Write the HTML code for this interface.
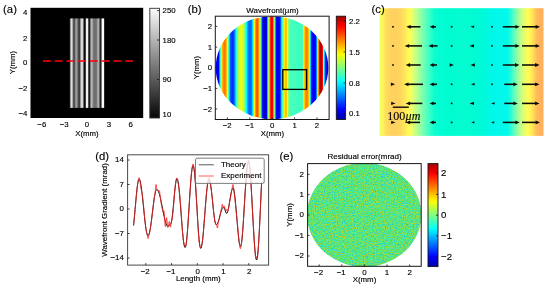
<!DOCTYPE html>
<html><head><meta charset="utf-8"><title>Figure</title>
<style>html,body{margin:0;padding:0;background:#fff;}body{width:550px;height:288px;overflow:hidden;}svg{display:block;}text{font-family:"Liberation Sans", sans-serif;fill:#000;stroke:#000;stroke-width:0.14px;}.t{font-size:7.8px;} .pl{font-size:11.3px;} .t2{font-size:7.9px;} .ax{fill:none;stroke:#151515;stroke-width:1;} .tk{stroke:#151515;stroke-width:0.8;fill:none;}</style></head><body>
<svg width="550" height="288" viewBox="0 0 550 288">
<defs>
<linearGradient id="gray" x1="0" y1="0" x2="0" y2="1"><stop offset="0" stop-color="#fbfbfb"/><stop offset="1" stop-color="#050505"/></linearGradient>
<linearGradient id="jetv" x1="0" y1="0" x2="0" y2="1"><stop offset="0.0000" stop-color="#a30000"/><stop offset="0.0312" stop-color="#c10000"/><stop offset="0.0625" stop-color="#de0000"/><stop offset="0.0938" stop-color="#fc0000"/><stop offset="0.1250" stop-color="#ff1b00"/><stop offset="0.1562" stop-color="#ff3800"/><stop offset="0.1875" stop-color="#ff5600"/><stop offset="0.2188" stop-color="#ff7400"/><stop offset="0.2500" stop-color="#ff9100"/><stop offset="0.2812" stop-color="#ffaf00"/><stop offset="0.3125" stop-color="#ffcd00"/><stop offset="0.3438" stop-color="#ffea00"/><stop offset="0.3750" stop-color="#f6ff09"/><stop offset="0.4062" stop-color="#d8ff27"/><stop offset="0.4375" stop-color="#bbff44"/><stop offset="0.4688" stop-color="#9dff62"/><stop offset="0.5000" stop-color="#7fff80"/><stop offset="0.5312" stop-color="#62ff9d"/><stop offset="0.5625" stop-color="#44ffbb"/><stop offset="0.5938" stop-color="#27ffd8"/><stop offset="0.6250" stop-color="#09fff6"/><stop offset="0.6562" stop-color="#00eaff"/><stop offset="0.6875" stop-color="#00cdff"/><stop offset="0.7188" stop-color="#00afff"/><stop offset="0.7500" stop-color="#0091ff"/><stop offset="0.7812" stop-color="#0074ff"/><stop offset="0.8125" stop-color="#0056ff"/><stop offset="0.8438" stop-color="#0038ff"/><stop offset="0.8750" stop-color="#001bff"/><stop offset="0.9062" stop-color="#0000fc"/><stop offset="0.9375" stop-color="#0000de"/><stop offset="0.9688" stop-color="#0000c1"/><stop offset="1.0000" stop-color="#0000a3"/></linearGradient>
<linearGradient id="strp" gradientUnits="userSpaceOnUse" x1="69.3" y1="0" x2="104.7" y2="0"><stop offset="0.0000" stop-color="#000000"/><stop offset="0.0311" stop-color="#8c8c8c"/><stop offset="0.0565" stop-color="#dedede"/><stop offset="0.0763" stop-color="#dedede"/><stop offset="0.1017" stop-color="#828282"/><stop offset="0.1243" stop-color="#464646"/><stop offset="0.1412" stop-color="#464646"/><stop offset="0.1667" stop-color="#7d7d7d"/><stop offset="0.1921" stop-color="#9e9e9e"/><stop offset="0.2119" stop-color="#9e9e9e"/><stop offset="0.2401" stop-color="#646464"/><stop offset="0.2712" stop-color="#3e3e3e"/><stop offset="0.2910" stop-color="#3e3e3e"/><stop offset="0.3164" stop-color="#969696"/><stop offset="0.3475" stop-color="#dedede"/><stop offset="0.3701" stop-color="#dedede"/><stop offset="0.3983" stop-color="#787878"/><stop offset="0.4237" stop-color="#0c0c0c"/><stop offset="0.4520" stop-color="#0c0c0c"/><stop offset="0.4746" stop-color="#d2d2d2"/><stop offset="0.4887" stop-color="#fafafa"/><stop offset="0.5113" stop-color="#fafafa"/><stop offset="0.5254" stop-color="#d2d2d2"/><stop offset="0.5480" stop-color="#232323"/><stop offset="0.5734" stop-color="#161616"/><stop offset="0.5989" stop-color="#7d7d7d"/><stop offset="0.6186" stop-color="#b6b6b6"/><stop offset="0.6441" stop-color="#b6b6b6"/><stop offset="0.6667" stop-color="#878787"/><stop offset="0.6921" stop-color="#707070"/><stop offset="0.7627" stop-color="#707070"/><stop offset="0.7910" stop-color="#969696"/><stop offset="0.8051" stop-color="#acacac"/><stop offset="0.8305" stop-color="#acacac"/><stop offset="0.8475" stop-color="#787878"/><stop offset="0.8757" stop-color="#202020"/><stop offset="0.8983" stop-color="#1c1c1c"/><stop offset="0.9181" stop-color="#c8c8c8"/><stop offset="0.9322" stop-color="#fcfcfc"/><stop offset="0.9661" stop-color="#fcfcfc"/><stop offset="0.9802" stop-color="#cdcdcd"/><stop offset="1.0000" stop-color="#000000"/></linearGradient>
<linearGradient id="wf" gradientUnits="userSpaceOnUse" x1="214" y1="0" x2="330" y2="0"><stop offset="0.0000" stop-color="#0000d1"/><stop offset="0.0043" stop-color="#0000d6"/><stop offset="0.0086" stop-color="#0000db"/><stop offset="0.0129" stop-color="#0000e0"/><stop offset="0.0172" stop-color="#0000e6"/><stop offset="0.0216" stop-color="#0000ea"/><stop offset="0.0259" stop-color="#0000ee"/><stop offset="0.0302" stop-color="#0000f2"/><stop offset="0.0345" stop-color="#0000f6"/><stop offset="0.0388" stop-color="#0000fa"/><stop offset="0.0431" stop-color="#0049ff"/><stop offset="0.0474" stop-color="#0097ff"/><stop offset="0.0517" stop-color="#00e5ff"/><stop offset="0.0560" stop-color="#4dffb2"/><stop offset="0.0603" stop-color="#b3ff4c"/><stop offset="0.0647" stop-color="#e6ff19"/><stop offset="0.0690" stop-color="#ffe500"/><stop offset="0.0733" stop-color="#ffb200"/><stop offset="0.0776" stop-color="#ff9700"/><stop offset="0.0819" stop-color="#ff8c00"/><stop offset="0.0862" stop-color="#ff8100"/><stop offset="0.0905" stop-color="#ff7600"/><stop offset="0.0948" stop-color="#ff6b00"/><stop offset="0.0991" stop-color="#ff8900"/><stop offset="0.1034" stop-color="#ffa700"/><stop offset="0.1078" stop-color="#ffc600"/><stop offset="0.1121" stop-color="#ffe400"/><stop offset="0.1164" stop-color="#e2ff1d"/><stop offset="0.1207" stop-color="#98ff67"/><stop offset="0.1250" stop-color="#4fffb0"/><stop offset="0.1293" stop-color="#05fffa"/><stop offset="0.1336" stop-color="#00cbff"/><stop offset="0.1379" stop-color="#0091ff"/><stop offset="0.1422" stop-color="#0058ff"/><stop offset="0.1466" stop-color="#0046ff"/><stop offset="0.1509" stop-color="#003eff"/><stop offset="0.1552" stop-color="#0036ff"/><stop offset="0.1595" stop-color="#002eff"/><stop offset="0.1638" stop-color="#0038ff"/><stop offset="0.1681" stop-color="#0042ff"/><stop offset="0.1724" stop-color="#004dff"/><stop offset="0.1767" stop-color="#007aff"/><stop offset="0.1810" stop-color="#00a7ff"/><stop offset="0.1853" stop-color="#00d4ff"/><stop offset="0.1897" stop-color="#02fffd"/><stop offset="0.1940" stop-color="#2fffd0"/><stop offset="0.1983" stop-color="#5bffa4"/><stop offset="0.2026" stop-color="#85ff7a"/><stop offset="0.2069" stop-color="#9eff61"/><stop offset="0.2112" stop-color="#b8ff47"/><stop offset="0.2155" stop-color="#d1ff2e"/><stop offset="0.2198" stop-color="#d9ff26"/><stop offset="0.2241" stop-color="#e0ff1f"/><stop offset="0.2284" stop-color="#e8ff17"/><stop offset="0.2328" stop-color="#f0ff0f"/><stop offset="0.2371" stop-color="#e8ff17"/><stop offset="0.2414" stop-color="#e0ff1f"/><stop offset="0.2457" stop-color="#d9ff26"/><stop offset="0.2500" stop-color="#d1ff2e"/><stop offset="0.2543" stop-color="#b9ff46"/><stop offset="0.2586" stop-color="#a1ff5e"/><stop offset="0.2629" stop-color="#89ff76"/><stop offset="0.2672" stop-color="#6aff95"/><stop offset="0.2716" stop-color="#46ffb9"/><stop offset="0.2759" stop-color="#22ffdd"/><stop offset="0.2802" stop-color="#00fcff"/><stop offset="0.2845" stop-color="#00d2ff"/><stop offset="0.2888" stop-color="#00a9ff"/><stop offset="0.2931" stop-color="#0080ff"/><stop offset="0.2974" stop-color="#0078ff"/><stop offset="0.3017" stop-color="#0070ff"/><stop offset="0.3060" stop-color="#0069ff"/><stop offset="0.3103" stop-color="#0061ff"/><stop offset="0.3147" stop-color="#006bff"/><stop offset="0.3190" stop-color="#0075ff"/><stop offset="0.3233" stop-color="#0080ff"/><stop offset="0.3276" stop-color="#00acff"/><stop offset="0.3319" stop-color="#00d8ff"/><stop offset="0.3362" stop-color="#05fffa"/><stop offset="0.3405" stop-color="#63ff9c"/><stop offset="0.3448" stop-color="#c1ff3e"/><stop offset="0.3491" stop-color="#fff200"/><stop offset="0.3534" stop-color="#ffc500"/><stop offset="0.3578" stop-color="#ff9800"/><stop offset="0.3621" stop-color="#ff6b00"/><stop offset="0.3664" stop-color="#ff5c00"/><stop offset="0.3707" stop-color="#ff4c00"/><stop offset="0.3750" stop-color="#ff5c00"/><stop offset="0.3793" stop-color="#ff6b00"/><stop offset="0.3836" stop-color="#ff8f00"/><stop offset="0.3879" stop-color="#ffb300"/><stop offset="0.3922" stop-color="#ffd600"/><stop offset="0.3966" stop-color="#fffa00"/><stop offset="0.4009" stop-color="#85ff7a"/><stop offset="0.4052" stop-color="#05fffa"/><stop offset="0.4095" stop-color="#00b6ff"/><stop offset="0.4138" stop-color="#0068ff"/><stop offset="0.4181" stop-color="#001aff"/><stop offset="0.4224" stop-color="#0000f1"/><stop offset="0.4267" stop-color="#0000e1"/><stop offset="0.4310" stop-color="#0000d2"/><stop offset="0.4353" stop-color="#0000c3"/><stop offset="0.4397" stop-color="#0000c6"/><stop offset="0.4440" stop-color="#0000d5"/><stop offset="0.4483" stop-color="#0000e4"/><stop offset="0.4526" stop-color="#0000f4"/><stop offset="0.4569" stop-color="#0043ff"/><stop offset="0.4612" stop-color="#00bcff"/><stop offset="0.4655" stop-color="#30ffcf"/><stop offset="0.4698" stop-color="#9aff65"/><stop offset="0.4741" stop-color="#fffa00"/><stop offset="0.4784" stop-color="#ffb400"/><stop offset="0.4828" stop-color="#ff6e00"/><stop offset="0.4871" stop-color="#ff2800"/><stop offset="0.4914" stop-color="#ff0900"/><stop offset="0.4957" stop-color="#f20000"/><stop offset="0.5000" stop-color="#ee0000"/><stop offset="0.5043" stop-color="#ff0400"/><stop offset="0.5086" stop-color="#ff1a00"/><stop offset="0.5129" stop-color="#ff8a00"/><stop offset="0.5172" stop-color="#fffa00"/><stop offset="0.5216" stop-color="#85ff7a"/><stop offset="0.5259" stop-color="#05fffa"/><stop offset="0.5302" stop-color="#009eff"/><stop offset="0.5345" stop-color="#0038ff"/><stop offset="0.5388" stop-color="#0008ff"/><stop offset="0.5431" stop-color="#0000fc"/><stop offset="0.5474" stop-color="#0000f1"/><stop offset="0.5517" stop-color="#0000e6"/><stop offset="0.5560" stop-color="#0000f0"/><stop offset="0.5603" stop-color="#0000fa"/><stop offset="0.5647" stop-color="#0005ff"/><stop offset="0.5690" stop-color="#000fff"/><stop offset="0.5733" stop-color="#0053ff"/><stop offset="0.5776" stop-color="#0097ff"/><stop offset="0.5819" stop-color="#00dbff"/><stop offset="0.5862" stop-color="#19ffe6"/><stop offset="0.5905" stop-color="#4cffb3"/><stop offset="0.5948" stop-color="#80ff80"/><stop offset="0.5991" stop-color="#b0ff4f"/><stop offset="0.6034" stop-color="#e0ff1f"/><stop offset="0.6078" stop-color="#ffee00"/><stop offset="0.6121" stop-color="#ffd200"/><stop offset="0.6164" stop-color="#ffc200"/><stop offset="0.6207" stop-color="#ffb300"/><stop offset="0.6250" stop-color="#ffc700"/><stop offset="0.6293" stop-color="#ffdb00"/><stop offset="0.6336" stop-color="#f0ff0f"/><stop offset="0.6379" stop-color="#bdff42"/><stop offset="0.6422" stop-color="#8aff75"/><stop offset="0.6466" stop-color="#72ff8d"/><stop offset="0.6509" stop-color="#62ff9d"/><stop offset="0.6552" stop-color="#51ffae"/><stop offset="0.6595" stop-color="#47ffb8"/><stop offset="0.6638" stop-color="#47ffb8"/><stop offset="0.6681" stop-color="#46ffb9"/><stop offset="0.6724" stop-color="#46ffb9"/><stop offset="0.6767" stop-color="#45ffba"/><stop offset="0.6810" stop-color="#45ffba"/><stop offset="0.6853" stop-color="#45ffba"/><stop offset="0.6897" stop-color="#44ffbb"/><stop offset="0.6940" stop-color="#44ffbb"/><stop offset="0.6983" stop-color="#43ffbc"/><stop offset="0.7026" stop-color="#43ffbc"/><stop offset="0.7069" stop-color="#42ffbd"/><stop offset="0.7112" stop-color="#40ffbf"/><stop offset="0.7155" stop-color="#3dffc2"/><stop offset="0.7198" stop-color="#3bffc4"/><stop offset="0.7241" stop-color="#38ffc7"/><stop offset="0.7284" stop-color="#3affc5"/><stop offset="0.7328" stop-color="#3bffc4"/><stop offset="0.7371" stop-color="#3dffc2"/><stop offset="0.7414" stop-color="#3fffc0"/><stop offset="0.7457" stop-color="#40ffbf"/><stop offset="0.7500" stop-color="#42ffbd"/><stop offset="0.7543" stop-color="#43ffbc"/><stop offset="0.7586" stop-color="#45ffba"/><stop offset="0.7629" stop-color="#47ffb8"/><stop offset="0.7672" stop-color="#78ff87"/><stop offset="0.7716" stop-color="#c9ff36"/><stop offset="0.7759" stop-color="#fff400"/><stop offset="0.7802" stop-color="#ffcc00"/><stop offset="0.7845" stop-color="#ffa400"/><stop offset="0.7888" stop-color="#ff9000"/><stop offset="0.7931" stop-color="#ff8800"/><stop offset="0.7974" stop-color="#ff8100"/><stop offset="0.8017" stop-color="#ff8500"/><stop offset="0.8060" stop-color="#ff8d00"/><stop offset="0.8103" stop-color="#ff9400"/><stop offset="0.8147" stop-color="#ffc300"/><stop offset="0.8190" stop-color="#fff100"/><stop offset="0.8233" stop-color="#b7ff48"/><stop offset="0.8276" stop-color="#48ffb7"/><stop offset="0.8319" stop-color="#00d9ff"/><stop offset="0.8362" stop-color="#006fff"/><stop offset="0.8405" stop-color="#0017ff"/><stop offset="0.8448" stop-color="#000cff"/><stop offset="0.8491" stop-color="#0001ff"/><stop offset="0.8534" stop-color="#0000f5"/><stop offset="0.8578" stop-color="#0000ea"/><stop offset="0.8621" stop-color="#0000ec"/><stop offset="0.8664" stop-color="#0000f7"/><stop offset="0.8707" stop-color="#0003ff"/><stop offset="0.8750" stop-color="#000eff"/><stop offset="0.8793" stop-color="#001aff"/><stop offset="0.8836" stop-color="#008cff"/><stop offset="0.8879" stop-color="#00ffff"/><stop offset="0.8922" stop-color="#7cff83"/><stop offset="0.8966" stop-color="#feff01"/><stop offset="0.9009" stop-color="#ff9200"/><stop offset="0.9052" stop-color="#ff4200"/><stop offset="0.9095" stop-color="#f10000"/><stop offset="0.9138" stop-color="#c50000"/><stop offset="0.9181" stop-color="#b20000"/><stop offset="0.9224" stop-color="#9e0000"/><stop offset="0.9267" stop-color="#b20000"/><stop offset="0.9310" stop-color="#c50000"/><stop offset="0.9353" stop-color="#ff0800"/><stop offset="0.9397" stop-color="#ff8e00"/><stop offset="0.9440" stop-color="#e5ff1a"/><stop offset="0.9483" stop-color="#4dffb2"/><stop offset="0.9526" stop-color="#00ccff"/><stop offset="0.9569" stop-color="#004cff"/><stop offset="0.9612" stop-color="#0012ff"/><stop offset="0.9655" stop-color="#0005ff"/><stop offset="0.9698" stop-color="#0000f7"/><stop offset="0.9741" stop-color="#0000eb"/><stop offset="0.9784" stop-color="#0000de"/><stop offset="0.9828" stop-color="#0000d1"/><stop offset="0.9871" stop-color="#0000d1"/><stop offset="0.9914" stop-color="#0000d1"/><stop offset="0.9957" stop-color="#0000d1"/><stop offset="1.0000" stop-color="#0000d1"/></linearGradient>
<linearGradient id="cg" gradientUnits="userSpaceOnUse" x1="379.6" y1="0" x2="543.5" y2="0"><stop offset="0.0000" stop-color="#ebff69"/><stop offset="0.0116" stop-color="#fafa5c"/><stop offset="0.0238" stop-color="#fff05a"/><stop offset="0.0390" stop-color="#ffde5c"/><stop offset="0.0635" stop-color="#ffd35f"/><stop offset="0.0940" stop-color="#ffd060"/><stop offset="0.1245" stop-color="#ffd55e"/><stop offset="0.1507" stop-color="#ffe45a"/><stop offset="0.1721" stop-color="#fff856"/><stop offset="0.1873" stop-color="#f8fd5c"/><stop offset="0.2062" stop-color="#dcff76"/><stop offset="0.2361" stop-color="#aaff96"/><stop offset="0.2648" stop-color="#78ffaf"/><stop offset="0.3014" stop-color="#3cffc8"/><stop offset="0.3380" stop-color="#0afdd0"/><stop offset="0.3990" stop-color="#00fcd2"/><stop offset="0.5210" stop-color="#05fcd0"/><stop offset="0.6004" stop-color="#00fad4"/><stop offset="0.6492" stop-color="#00f9dc"/><stop offset="0.6858" stop-color="#00f8ea"/><stop offset="0.7773" stop-color="#02f8ea"/><stop offset="0.7987" stop-color="#23fada"/><stop offset="0.8170" stop-color="#5afcc3"/><stop offset="0.8432" stop-color="#96fda0"/><stop offset="0.8719" stop-color="#d7ff78"/><stop offset="0.8932" stop-color="#f2fd62"/><stop offset="0.9103" stop-color="#fffa55"/><stop offset="0.9237" stop-color="#ffee56"/><stop offset="0.9359" stop-color="#ffde58"/><stop offset="0.9573" stop-color="#ffbe58"/><stop offset="0.9786" stop-color="#ffb25a"/><stop offset="1.0000" stop-color="#ffaf5c"/></linearGradient>
<filter id="nz" x="0" y="0" width="1" height="1" color-interpolation-filters="sRGB"><feTurbulence type="fractalNoise" baseFrequency="0.9" numOctaves="2" seed="11" result="n"/><feColorMatrix in="n" type="matrix" values="0 1 0 0 0  0 1 0 0 0  0 1 0 0 0  0 0 0 0 1"/><feComponentTransfer><feFuncR type="table" tableValues="0.10 0.15 0.33 0.72 0.90"/><feFuncG type="table" tableValues="0.55 0.80 0.92 0.85 0.65"/><feFuncB type="table" tableValues="0.90 0.80 0.48 0.20 0.10"/></feComponentTransfer><feComposite in2="SourceGraphic" operator="in"/></filter>
<clipPath id="cb"><ellipse cx="272" cy="67.7" rx="56.3" ry="51.5"/></clipPath>
</defs>
<rect x="0" y="0" width="550" height="288" fill="#ffffff"/>
<g id="pa">
<text x="3.10" y="12.70" class="pl" text-anchor="start">(a)</text>
<rect x="30.5" y="7.8" width="112.7" height="110.2" fill="#000"/>
<rect x="69.3" y="18.4" width="35.4" height="89.5" fill="url(#strp)"/>
<line x1="43" y1="61" x2="133" y2="61" stroke="#ff0008" stroke-width="1.35" stroke-dasharray="7.9 3.83"/>
<text x="27.40" y="14.70" class="t" text-anchor="end">4</text>
<text x="27.40" y="40.70" class="t" text-anchor="end">2</text>
<text x="27.40" y="65.30" class="t" text-anchor="end">0</text>
<text x="27.40" y="90.70" class="t" text-anchor="end">−2</text>
<text x="27.40" y="116.30" class="t" text-anchor="end">−4</text>
<text x="41.80" y="127.20" class="t" text-anchor="middle">−6</text>
<text x="64.10" y="127.20" class="t" text-anchor="middle">−3</text>
<text x="87.00" y="127.20" class="t" text-anchor="middle">0</text>
<text x="108.80" y="127.20" class="t" text-anchor="middle">3</text>
<text x="130.60" y="127.20" class="t" text-anchor="middle">6</text>
<text x="87.00" y="135.60" class="t" text-anchor="middle">X(mm)</text>
<text class="t" text-anchor="middle" transform="translate(14.6,62.5) rotate(-90)">Y(mm)</text>
<rect x="149.8" y="8.3" width="9.7" height="109.7" fill="url(#gray)" stroke="#333" stroke-width="0.9"/>
<text x="162.60" y="13.30" class="t" text-anchor="start">250</text>
<line x1="157" y1="10.6" x2="159" y2="10.6" class="tk"/>
<text x="162.60" y="42.70" class="t" text-anchor="start">180</text>
<line x1="157" y1="40" x2="159" y2="40" class="tk"/>
<text x="162.60" y="82.20" class="t" text-anchor="start">90</text>
<line x1="157" y1="79.5" x2="159" y2="79.5" class="tk"/>
<text x="162.60" y="116.50" class="t" text-anchor="start">10</text>
<line x1="157" y1="113.8" x2="159" y2="113.8" class="tk"/>
</g>
<g id="pb">
<text x="187.80" y="12.60" class="pl" text-anchor="start">(b)</text>
<text x="272.50" y="12.60" class="t" text-anchor="middle" style="font-size:7.95px">Wavefront(µm)</text>
<rect x="214" y="15" width="117" height="106" fill="url(#wf)" clip-path="url(#cb)"/>
<rect x="215.3" y="16.2" width="113.8" height="103.3" class="ax"/>
<rect x="282.8" y="69.7" width="23.8" height="19.7" fill="none" stroke="#000" stroke-width="1.3"/>
<text x="212.10" y="29.10" class="t" text-anchor="end">2</text>
<line x1="215.3" y1="26.4" x2="217.3" y2="26.4" class="tk"/>
<text x="212.10" y="49.80" class="t" text-anchor="end">1</text>
<line x1="215.3" y1="47.1" x2="217.3" y2="47.1" class="tk"/>
<text x="212.10" y="70.40" class="t" text-anchor="end">0</text>
<line x1="215.3" y1="67.7" x2="217.3" y2="67.7" class="tk"/>
<text x="212.10" y="91.10" class="t" text-anchor="end">−1</text>
<line x1="215.3" y1="88.4" x2="217.3" y2="88.4" class="tk"/>
<text x="212.10" y="111.70" class="t" text-anchor="end">−2</text>
<line x1="215.3" y1="109" x2="217.3" y2="109" class="tk"/>
<text x="227.20" y="128.30" class="t" text-anchor="middle">−2</text>
<line x1="227.4" y1="119.2" x2="227.4" y2="117.4" class="tk"/>
<text x="249.60" y="128.30" class="t" text-anchor="middle">−1</text>
<line x1="249.8" y1="119.2" x2="249.8" y2="117.4" class="tk"/>
<text x="272.20" y="128.30" class="t" text-anchor="middle">0</text>
<line x1="272.2" y1="119.2" x2="272.2" y2="117.4" class="tk"/>
<text x="294.60" y="128.30" class="t" text-anchor="middle">1</text>
<line x1="294.6" y1="119.2" x2="294.6" y2="117.4" class="tk"/>
<text x="317.00" y="128.30" class="t" text-anchor="middle">2</text>
<line x1="317" y1="119.2" x2="317" y2="117.4" class="tk"/>
<text x="272.50" y="135.90" class="t" text-anchor="middle">X(mm)</text>
<text class="t" text-anchor="middle" transform="translate(198.9,67.5) rotate(-90)">Y(mm)</text>
<rect x="336.3" y="16.2" width="9.3" height="103.3" fill="url(#jetv)" stroke="#151515" stroke-width="0.9"/>
<text x="349.10" y="23.70" class="t" text-anchor="start">2.2</text>
<line x1="343.6" y1="21" x2="345.6" y2="21" class="tk"/>
<text x="349.10" y="54.70" class="t" text-anchor="start">1.5</text>
<line x1="343.6" y1="52" x2="345.6" y2="52" class="tk"/>
<text x="349.10" y="85.70" class="t" text-anchor="start">0.8</text>
<line x1="343.6" y1="83" x2="345.6" y2="83" class="tk"/>
<text x="349.10" y="116.30" class="t" text-anchor="start">0.1</text>
<line x1="343.6" y1="113.6" x2="345.6" y2="113.6" class="tk"/>
</g>
<g id="pc">
<rect x="379.6" y="8.2" width="163.9" height="127.7" fill="url(#cg)"/>
<text x="371.60" y="12.70" class="pl" text-anchor="start">(c)</text>
<rect x="392.1" y="26.0" width="1.7" height="1.6" fill="#111"/>
<line x1="420.4" y1="26.8" x2="408.9" y2="26.8" stroke="#0a0a0a" stroke-width="1.55"/>
<path d="M406.3 26.8L410.7 24.9L410.7 28.7Z" fill="#0a0a0a"/>
<line x1="436.0" y1="26.8" x2="432.1" y2="26.8" stroke="#0a0a0a" stroke-width="1.55"/>
<path d="M429.7 26.8L433.7 24.9L433.7 28.7Z" fill="#0a0a0a"/>
<rect x="450.8" y="26.0" width="1.7" height="1.6" fill="#111"/>
<path d="M470.5 26.8L474.1 25.6L474.1 28.0Z" fill="#0a0a0a"/>
<rect x="491.1" y="26.0" width="1.7" height="1.6" fill="#111"/>
<line x1="502.8" y1="26.8" x2="517.2" y2="26.8" stroke="#0a0a0a" stroke-width="1.55"/>
<path d="M519.8 26.8L515.4 24.9L515.4 28.7Z" fill="#0a0a0a"/>
<line x1="522.0" y1="26.8" x2="537.4" y2="26.8" stroke="#0a0a0a" stroke-width="1.55"/>
<path d="M540.0 26.8L535.6 24.9L535.6 28.7Z" fill="#0a0a0a"/>
<rect x="392.1" y="45.1" width="1.7" height="1.6" fill="#111"/>
<line x1="422.0" y1="45.9" x2="407.3" y2="45.9" stroke="#0a0a0a" stroke-width="1.55"/>
<path d="M404.7 45.9L409.1 44.0L409.1 47.8Z" fill="#0a0a0a"/>
<line x1="437.5" y1="45.9" x2="431.1" y2="45.9" stroke="#0a0a0a" stroke-width="1.55"/>
<path d="M428.5 45.9L432.9 44.0L432.9 47.8Z" fill="#0a0a0a"/>
<rect x="450.8" y="45.1" width="1.7" height="1.6" fill="#111"/>
<path d="M469.7 45.9L474.0 44.2L474.0 47.6Z" fill="#0a0a0a"/>
<rect x="491.1" y="45.1" width="1.7" height="1.6" fill="#111"/>
<line x1="502.8" y1="45.9" x2="517.2" y2="45.9" stroke="#0a0a0a" stroke-width="1.55"/>
<path d="M519.8 45.9L515.4 44.0L515.4 47.8Z" fill="#0a0a0a"/>
<line x1="522.0" y1="45.9" x2="537.4" y2="45.9" stroke="#0a0a0a" stroke-width="1.55"/>
<path d="M540.0 45.9L535.6 44.0L535.6 47.8Z" fill="#0a0a0a"/>
<rect x="392.1" y="64.2" width="1.7" height="1.6" fill="#111"/>
<line x1="420.7" y1="65.0" x2="408.3" y2="65.0" stroke="#0a0a0a" stroke-width="1.55"/>
<path d="M405.7 65.0L410.1 63.1L410.1 66.9Z" fill="#0a0a0a"/>
<line x1="437.0" y1="65.0" x2="432.1" y2="65.0" stroke="#0a0a0a" stroke-width="1.55"/>
<path d="M429.7 65.0L433.7 63.1L433.7 66.9Z" fill="#0a0a0a"/>
<path d="M453.8 65.0L449.7 63.3L449.7 66.7Z" fill="#0a0a0a"/>
<path d="M470.5 65.0L474.8 63.3L474.8 66.7Z" fill="#0a0a0a"/>
<rect x="491.1" y="64.2" width="1.7" height="1.6" fill="#111"/>
<line x1="502.8" y1="65.0" x2="516.8" y2="65.0" stroke="#0a0a0a" stroke-width="1.55"/>
<path d="M519.4 65.0L515.0 63.1L515.0 66.9Z" fill="#0a0a0a"/>
<line x1="522.0" y1="65.0" x2="536.9" y2="65.0" stroke="#0a0a0a" stroke-width="1.55"/>
<path d="M539.5 65.0L535.1 63.1L535.1 66.9Z" fill="#0a0a0a"/>
<path d="M395.0 84.3L390.9 82.6L390.9 86.0Z" fill="#0a0a0a"/>
<line x1="423.0" y1="84.3" x2="406.7" y2="84.3" stroke="#0a0a0a" stroke-width="1.55"/>
<path d="M404.1 84.3L408.5 82.4L408.5 86.2Z" fill="#0a0a0a"/>
<line x1="437.0" y1="84.3" x2="432.1" y2="84.3" stroke="#0a0a0a" stroke-width="1.55"/>
<path d="M429.7 84.3L433.7 82.4L433.7 86.2Z" fill="#0a0a0a"/>
<rect x="450.8" y="83.5" width="1.7" height="1.6" fill="#111"/>
<path d="M471.0 84.3L474.6 83.1L474.6 85.5Z" fill="#0a0a0a"/>
<rect x="491.1" y="83.5" width="1.7" height="1.6" fill="#111"/>
<line x1="504.3" y1="84.3" x2="515.2" y2="84.3" stroke="#0a0a0a" stroke-width="1.55"/>
<path d="M517.8 84.3L513.4 82.4L513.4 86.2Z" fill="#0a0a0a"/>
<line x1="522.0" y1="84.3" x2="536.9" y2="84.3" stroke="#0a0a0a" stroke-width="1.55"/>
<path d="M539.5 84.3L535.1 82.4L535.1 86.2Z" fill="#0a0a0a"/>
<path d="M395.5 103.4L391.2 101.7L391.2 105.1Z" fill="#0a0a0a"/>
<line x1="422.3" y1="103.4" x2="408.3" y2="103.4" stroke="#0a0a0a" stroke-width="1.55"/>
<path d="M405.7 103.4L410.1 101.5L410.1 105.3Z" fill="#0a0a0a"/>
<line x1="436.0" y1="103.4" x2="432.1" y2="103.4" stroke="#0a0a0a" stroke-width="1.55"/>
<path d="M429.7 103.4L433.7 101.5L433.7 105.3Z" fill="#0a0a0a"/>
<rect x="450.8" y="102.6" width="1.7" height="1.6" fill="#111"/>
<path d="M469.7 103.4L474.0 101.7L474.0 105.1Z" fill="#0a0a0a"/>
<path d="M491.0 103.4L494.6 102.2L494.6 104.6Z" fill="#0a0a0a"/>
<line x1="504.3" y1="103.4" x2="515.2" y2="103.4" stroke="#0a0a0a" stroke-width="1.55"/>
<path d="M517.8 103.4L513.4 101.5L513.4 105.3Z" fill="#0a0a0a"/>
<line x1="522.0" y1="103.4" x2="536.9" y2="103.4" stroke="#0a0a0a" stroke-width="1.55"/>
<path d="M539.5 103.4L535.1 101.5L535.1 105.3Z" fill="#0a0a0a"/>
<path d="M395.5 122.4L391.2 120.7L391.2 124.1Z" fill="#0a0a0a"/>
<line x1="420.0" y1="122.4" x2="408.3" y2="122.4" stroke="#0a0a0a" stroke-width="1.55"/>
<path d="M405.7 122.4L410.1 120.5L410.1 124.3Z" fill="#0a0a0a"/>
<line x1="436.0" y1="122.4" x2="432.1" y2="122.4" stroke="#0a0a0a" stroke-width="1.55"/>
<path d="M429.7 122.4L433.7 120.5L433.7 124.3Z" fill="#0a0a0a"/>
<rect x="450.8" y="121.6" width="1.7" height="1.6" fill="#111"/>
<path d="M471.3 122.4L474.3 121.2L474.3 123.6Z" fill="#0a0a0a"/>
<path d="M491.0 122.4L494.2 121.2L494.2 123.6Z" fill="#0a0a0a"/>
<line x1="502.8" y1="122.4" x2="517.2" y2="122.4" stroke="#0a0a0a" stroke-width="1.55"/>
<path d="M519.8 122.4L515.4 120.5L515.4 124.3Z" fill="#0a0a0a"/>
<line x1="522.0" y1="122.4" x2="537.4" y2="122.4" stroke="#0a0a0a" stroke-width="1.55"/>
<path d="M540.0 122.4L535.6 120.5L535.6 124.3Z" fill="#0a0a0a"/>
<line x1="392.8" y1="107.2" x2="408.8" y2="107.2" stroke="#0a0a0a" stroke-width="1.4"/>
<text transform="translate(387.3,120) scale(0.955,1)" text-anchor="start" style="font-family:'Liberation Serif', serif;font-size:12.6px;fill:#000;stroke:#000;stroke-width:0.12px">100<tspan dx="0.3" font-style="italic">μm</tspan></text>
</g>
<g id="pd">
<text x="95.20" y="160.00" class="pl" text-anchor="start">(d)</text>
<path d="M133.6 225.5L134.1 220.5L134.6 215.0L135.1 209.3L135.6 203.5L136.1 197.9L136.6 192.7L137.1 188.1L137.6 184.3L138.1 181.5L138.6 179.8L139.1 179.2L139.6 179.6L140.1 180.9L140.6 183.1L141.1 186.0L141.6 189.5L142.1 193.6L142.6 198.2L143.1 203.0L143.6 208.0L144.1 213.0L144.6 217.8L145.1 222.2L145.6 226.2L146.1 229.7L146.6 232.4L147.1 234.4L147.6 235.5L148.1 235.8L148.6 235.3L149.1 234.0L149.6 232.1L150.1 229.6L150.6 226.5L151.1 223.0L151.6 219.2L152.1 215.1L152.6 211.0L153.1 206.9L153.6 203.0L154.1 199.4L154.6 196.3L155.1 193.6L155.6 191.6L156.1 190.2L156.6 189.6L157.1 189.6L157.6 190.0L158.1 190.7L158.6 191.8L159.1 193.2L159.6 194.8L160.1 196.8L160.6 198.9L161.1 201.3L161.6 203.7L162.1 206.2L162.6 208.8L163.1 211.4L163.6 213.9L164.1 216.3L164.6 218.5L165.1 220.5L165.6 222.3L166.1 223.8L166.6 225.0L167.1 225.9L167.6 226.4L168.1 226.6L168.6 226.4L169.1 225.7L169.6 224.9L170.1 224.2L170.6 224.0L171.1 223.3L171.6 221.3L172.1 218.1L172.6 213.9L173.1 208.9L173.6 203.5L174.1 198.0L174.6 192.6L175.1 187.8L175.6 183.8L176.1 180.8L176.6 179.0L177.1 178.6L177.6 179.5L178.1 181.7L178.6 185.0L179.1 189.4L179.6 194.7L180.1 200.6L180.6 207.1L181.1 213.7L181.6 220.3L182.1 226.7L182.6 232.5L183.1 237.6L183.6 241.8L184.1 244.9L184.6 246.9L185.1 247.5L185.6 246.7L186.1 244.4L186.6 240.6L187.1 235.5L187.6 229.3L188.1 222.2L188.6 214.5L189.1 206.6L189.6 198.6L190.1 190.9L190.6 183.8L191.1 177.6L191.6 172.5L192.1 168.7L192.6 166.4L193.1 165.6L193.6 166.5L194.1 169.1L194.6 173.3L195.1 179.0L195.6 185.8L196.1 193.6L196.6 201.9L197.1 210.4L197.6 218.8L198.1 226.7L198.6 233.8L199.1 239.7L199.6 244.2L200.1 247.1L200.6 248.4L201.1 248.0L201.6 246.4L202.1 243.6L202.6 239.8L203.1 235.0L203.6 229.5L204.1 223.4L204.6 217.0L205.1 210.4L205.6 204.0L206.1 197.9L206.6 192.4L207.1 187.6L207.6 183.8L208.1 181.0L208.6 179.4L209.1 179.0L209.6 179.8L210.1 181.6L210.6 184.4L211.1 188.0L211.6 192.2L212.1 196.9L212.6 201.9L213.1 206.9L213.6 211.6L214.1 215.8L214.6 219.4L215.1 222.2L215.6 224.0L216.1 224.8L216.6 224.7L217.1 224.2L217.6 223.3L218.1 222.1L218.6 220.6L219.1 218.9L219.6 217.0L220.1 215.1L220.6 213.3L221.1 211.6L221.6 210.0L222.1 208.7L222.6 207.8L223.1 207.2L223.6 207.0L224.1 207.4L224.6 208.6L225.1 210.2L225.6 211.8L226.1 213.0L226.6 213.4L227.1 213.0L227.6 211.9L228.1 210.1L228.6 207.8L229.1 205.0L229.6 201.9L230.1 198.8L230.6 195.8L231.1 193.1L231.6 190.9L232.1 189.2L232.6 188.2L233.1 188.0L233.6 188.9L234.1 191.1L234.6 194.3L235.1 198.6L235.6 203.7L236.1 209.4L236.6 215.4L237.1 221.5L237.6 227.4L238.1 232.9L238.6 237.7L239.1 241.6L239.6 244.4L240.1 246.1L240.6 246.5L241.1 245.3L241.6 242.5L242.1 238.2L242.6 232.5L243.1 225.7L243.6 218.1L244.1 209.9L244.6 201.5L245.1 193.1L245.6 185.2L246.1 178.1L246.6 171.9L247.1 167.1L247.6 163.6L248.1 161.8L248.6 161.6L249.1 163.3L249.6 166.6L250.1 171.6L250.6 178.0L251.1 185.6L251.6 194.1L252.1 203.2L252.6 212.6L253.1 222.0L253.6 230.9L254.1 239.1L254.6 246.2L255.1 252.1L255.6 256.4L256.1 259.1L256.6 260.0L257.1 258.9L257.6 255.7L258.1 250.5L258.6 243.5L259.1 235.0L259.6 225.3L260.1 214.8L260.6 203.9L261.1 193.1L261.6 182.7" fill="none" stroke="#111" stroke-width="1.0" stroke-linejoin="round"/>
<path d="M133.6 224.4L134.1 219.7L134.6 214.6L135.1 209.4L135.6 204.1L136.1 198.9L136.6 193.7L137.1 188.8L137.6 184.3L138.1 180.9L138.6 178.6L139.1 177.6L139.6 178.9L140.1 181.9L140.6 185.8L141.1 189.3L141.6 190.9L142.1 193.1L142.6 197.1L143.1 201.4L143.6 206.2L144.1 211.6L144.6 217.1L145.1 222.3L145.6 226.6L146.1 229.9L146.6 232.3L147.1 233.8L147.6 236.9L148.1 238.6L148.6 236.4L149.1 234.4L149.6 232.8L150.1 230.4L150.6 227.3L151.1 223.7L151.6 219.8L152.1 215.7L152.6 211.6L153.1 207.3L153.6 203.0L154.1 199.0L154.6 195.5L155.1 192.8L155.6 187.4L156.1 184.4L156.6 187.8L157.1 190.1L157.6 190.1L158.1 191.1L158.6 192.0L159.1 190.5L159.6 191.0L160.1 195.3L160.6 199.6L161.1 203.1L161.6 206.2L162.1 208.5L162.6 210.2L163.1 211.6L163.6 210.6L164.1 211.0L164.6 218.2L165.1 226.3L165.6 226.4L166.1 221.4L166.6 217.5L167.1 221.5L167.6 227.4L168.1 227.0L168.6 224.9L169.1 221.6L169.6 221.6L170.1 226.3L170.6 227.2L171.1 223.6L171.6 220.9L172.1 218.7L172.6 215.4L173.1 211.0L173.6 205.6L174.1 199.4L174.6 192.9L175.1 187.1L175.6 182.4L176.1 179.6L176.6 178.1L177.1 178.4L177.6 180.6L178.1 183.2L178.6 186.0L179.1 189.5L179.6 193.7L180.1 199.0L180.6 205.3L181.1 212.4L181.6 219.7L182.1 226.6L182.6 232.7L183.1 237.9L183.6 241.9L184.1 245.0L184.6 245.9L185.1 245.5L185.6 246.4L186.1 245.3L186.6 241.4L187.1 236.0L187.6 229.5L188.1 222.2L188.6 214.6L189.1 206.7L189.6 198.8L190.1 191.0L190.6 183.6L191.1 176.9L191.6 171.4L192.1 167.6L192.6 165.0L193.1 163.9L193.6 166.1L194.1 169.5L194.6 173.5L195.1 178.6L195.6 184.9L196.1 192.5L196.6 201.3L197.1 210.7L197.6 220.1L198.1 228.7L198.6 235.9L199.1 241.2L199.6 244.7L200.1 246.8L200.6 247.7L201.1 247.1L201.6 245.6L202.1 243.3L202.6 239.9L203.1 235.3L203.6 229.6L204.1 223.2L204.6 216.5L205.1 209.8L205.6 203.4L206.1 197.4L206.6 191.9L207.1 187.1L207.6 183.3L208.1 180.7L208.6 178.2L209.1 177.6L209.6 180.4L210.1 183.3L210.6 185.9L211.1 188.9L211.6 192.3L212.1 196.2L212.6 200.9L213.1 206.0L213.6 211.3L214.1 216.1L214.6 220.0L215.1 222.5L215.6 223.7L216.1 223.8L216.6 224.1L217.1 227.5L217.6 228.0L218.1 223.6L218.6 221.4L219.1 220.1L219.6 217.8L220.1 215.3L220.6 212.2L221.1 209.9L221.6 208.1L222.1 204.3L222.6 204.6L223.1 207.8L223.6 208.2L224.1 206.7L224.6 206.4L225.1 208.9L225.6 211.1L226.1 210.3L226.6 209.5L227.1 211.0L227.6 211.9L228.1 210.6L228.6 207.6L229.1 204.7L229.6 202.2L230.1 199.6L230.6 196.8L231.1 193.8L231.6 190.9L232.1 188.5L232.6 185.5L233.1 184.4L233.6 187.8L234.1 192.1L234.6 196.3L235.1 201.0L235.6 205.7L236.1 210.4L236.6 215.1L237.1 220.1L237.6 225.4L238.1 231.0L238.6 236.5L239.1 241.2L239.6 245.2L240.1 248.5L240.6 248.5L241.1 245.7L241.6 242.4L242.1 238.0L242.6 232.3L243.1 225.5L243.6 217.8L244.1 209.6L244.6 201.3L245.1 193.3L245.6 186.0L246.1 179.4L246.6 173.7L247.1 168.7L247.6 164.6L248.1 161.1L248.6 159.8L249.1 161.4L249.6 164.9L250.1 170.4L250.6 177.6L251.1 185.9L251.6 194.7L252.1 203.6L252.6 212.4L253.1 221.1L253.6 229.7L254.1 238.1L254.6 245.9L255.1 252.5L255.6 257.4L256.1 258.3L256.6 256.5L257.1 257.5L257.6 255.9L258.1 250.6L258.6 243.7L259.1 235.4L259.6 225.8L260.1 215.2L260.6 204.0L261.1 192.8L261.6 182.1" fill="none" stroke="#ff2020" stroke-width="0.8" stroke-linejoin="round"/>
<rect x="127.6" y="154.8" width="141" height="110.3" class="ax" style="stroke:#4a4a4a"/>
<text x="123.90" y="162.40" class="t t2" text-anchor="end">14</text>
<line x1="127.6" y1="160.00" x2="129.6" y2="160.00" class="tk"/>
<text x="123.90" y="186.90" class="t t2" text-anchor="end">7</text>
<line x1="127.6" y1="184.50" x2="129.6" y2="184.50" class="tk"/>
<text x="123.90" y="211.40" class="t t2" text-anchor="end">0</text>
<line x1="127.6" y1="209.00" x2="129.6" y2="209.00" class="tk"/>
<text x="123.90" y="235.90" class="t t2" text-anchor="end">−7</text>
<line x1="127.6" y1="233.50" x2="129.6" y2="233.50" class="tk"/>
<text x="123.90" y="260.40" class="t t2" text-anchor="end">−14</text>
<line x1="127.6" y1="258.00" x2="129.6" y2="258.00" class="tk"/>
<text x="145.20" y="273.50" class="t t2" text-anchor="middle">−2</text>
<line x1="145.80" y1="265.1" x2="145.80" y2="263.1" class="tk"/>
<text x="170.95" y="273.50" class="t t2" text-anchor="middle">−1</text>
<line x1="171.55" y1="265.1" x2="171.55" y2="263.1" class="tk"/>
<text x="197.70" y="273.50" class="t t2" text-anchor="middle">0</text>
<line x1="197.30" y1="265.1" x2="197.30" y2="263.1" class="tk"/>
<text x="223.45" y="273.50" class="t t2" text-anchor="middle">1</text>
<line x1="223.05" y1="265.1" x2="223.05" y2="263.1" class="tk"/>
<text x="249.20" y="273.50" class="t t2" text-anchor="middle">2</text>
<line x1="248.80" y1="265.1" x2="248.80" y2="263.1" class="tk"/>
<text x="198.30" y="281.40" class="t t2" text-anchor="middle">Length (mm)</text>
<text class="t t2" text-anchor="middle" transform="translate(106.7,210) rotate(-90)">Wavefront Gradient (mrad)</text>
<rect x="195.5" y="158.2" width="68.7" height="25.2" rx="1.6" ry="1.6" fill="#ffffff" fill-opacity="0.8" stroke="#666" stroke-width="0.85"/>
<line x1="198.8" y1="164.8" x2="213.8" y2="164.8" stroke="#222" stroke-width="0.75"/>
<line x1="198.8" y1="176" x2="213.8" y2="176" stroke="#ff2a2a" stroke-width="0.75"/>
<text x="220.9" y="167.2" class="t" text-anchor="start" style="font-size:8px">Theory</text>
<text x="220.9" y="178.4" class="t" text-anchor="start" style="font-size:8px">Experiment</text>
</g>
<g id="pe">
<text x="279.50" y="160.30" class="pl" text-anchor="start">(e)</text>
<text x="364.60" y="159.30" class="t" text-anchor="middle" style="font-size:8.05px">Residual error(mrad)</text>
<ellipse cx="364.2" cy="214.85" rx="57" ry="51.8" fill="#5ae688"/>
<ellipse cx="364.2" cy="214.85" rx="57" ry="51.8" fill="#5ae688" filter="url(#nz)"/>
<rect x="307.6" y="163.6" width="113.6" height="102.7" class="ax"/>
<text x="304.00" y="176.70" class="t t2" text-anchor="end">2</text>
<line x1="307.6" y1="174.4" x2="309.6" y2="174.4" class="tk"/>
<text x="304.00" y="197.00" class="t t2" text-anchor="end">1</text>
<line x1="307.6" y1="194.7" x2="309.6" y2="194.7" class="tk"/>
<text x="304.00" y="217.30" class="t t2" text-anchor="end">0</text>
<line x1="307.6" y1="215" x2="309.6" y2="215" class="tk"/>
<text x="304.00" y="237.70" class="t t2" text-anchor="end">−1</text>
<line x1="307.6" y1="235.4" x2="309.6" y2="235.4" class="tk"/>
<text x="304.00" y="258.30" class="t t2" text-anchor="end">−2</text>
<line x1="307.6" y1="256" x2="309.6" y2="256" class="tk"/>
<text x="318.60" y="274.60" class="t t2" text-anchor="middle">−2</text>
<line x1="319.2" y1="266.3" x2="319.2" y2="264.4" class="tk"/>
<text x="341.20" y="274.60" class="t t2" text-anchor="middle">−1</text>
<line x1="341.8" y1="266.3" x2="341.8" y2="264.4" class="tk"/>
<text x="364.40" y="274.60" class="t t2" text-anchor="middle">0</text>
<line x1="364.4" y1="266.3" x2="364.4" y2="264.4" class="tk"/>
<text x="387.00" y="274.60" class="t t2" text-anchor="middle">1</text>
<line x1="387" y1="266.3" x2="387" y2="264.4" class="tk"/>
<text x="409.60" y="274.60" class="t t2" text-anchor="middle">2</text>
<line x1="409.6" y1="266.3" x2="409.6" y2="264.4" class="tk"/>
<text x="364.50" y="282.40" class="t t2" text-anchor="middle">X(mm)</text>
<text class="t t2" text-anchor="middle" transform="translate(291.5,215) rotate(-90)">Y(mm)</text>
<rect x="428" y="163.6" width="10" height="103" fill="url(#jetv)" stroke="#151515" stroke-width="0.9"/>
<text x="441.10" y="176.30" class="t" text-anchor="start" style="font-size:9.6px">2</text>
<line x1="436" y1="173.2" x2="438" y2="173.2" class="tk"/>
<text x="441.10" y="197.50" class="t" text-anchor="start" style="font-size:9.6px">1</text>
<line x1="436" y1="194.4" x2="438" y2="194.4" class="tk"/>
<text x="441.10" y="218.30" class="t" text-anchor="start" style="font-size:9.6px">0</text>
<line x1="436" y1="215.2" x2="438" y2="215.2" class="tk"/>
<text x="441.10" y="238.90" class="t" text-anchor="start" style="font-size:9.6px">−1</text>
<line x1="436" y1="235.8" x2="438" y2="235.8" class="tk"/>
<text x="441.10" y="259.90" class="t" text-anchor="start" style="font-size:9.6px">−2</text>
<line x1="436" y1="256.8" x2="438" y2="256.8" class="tk"/>
</g>
</svg></body></html>
